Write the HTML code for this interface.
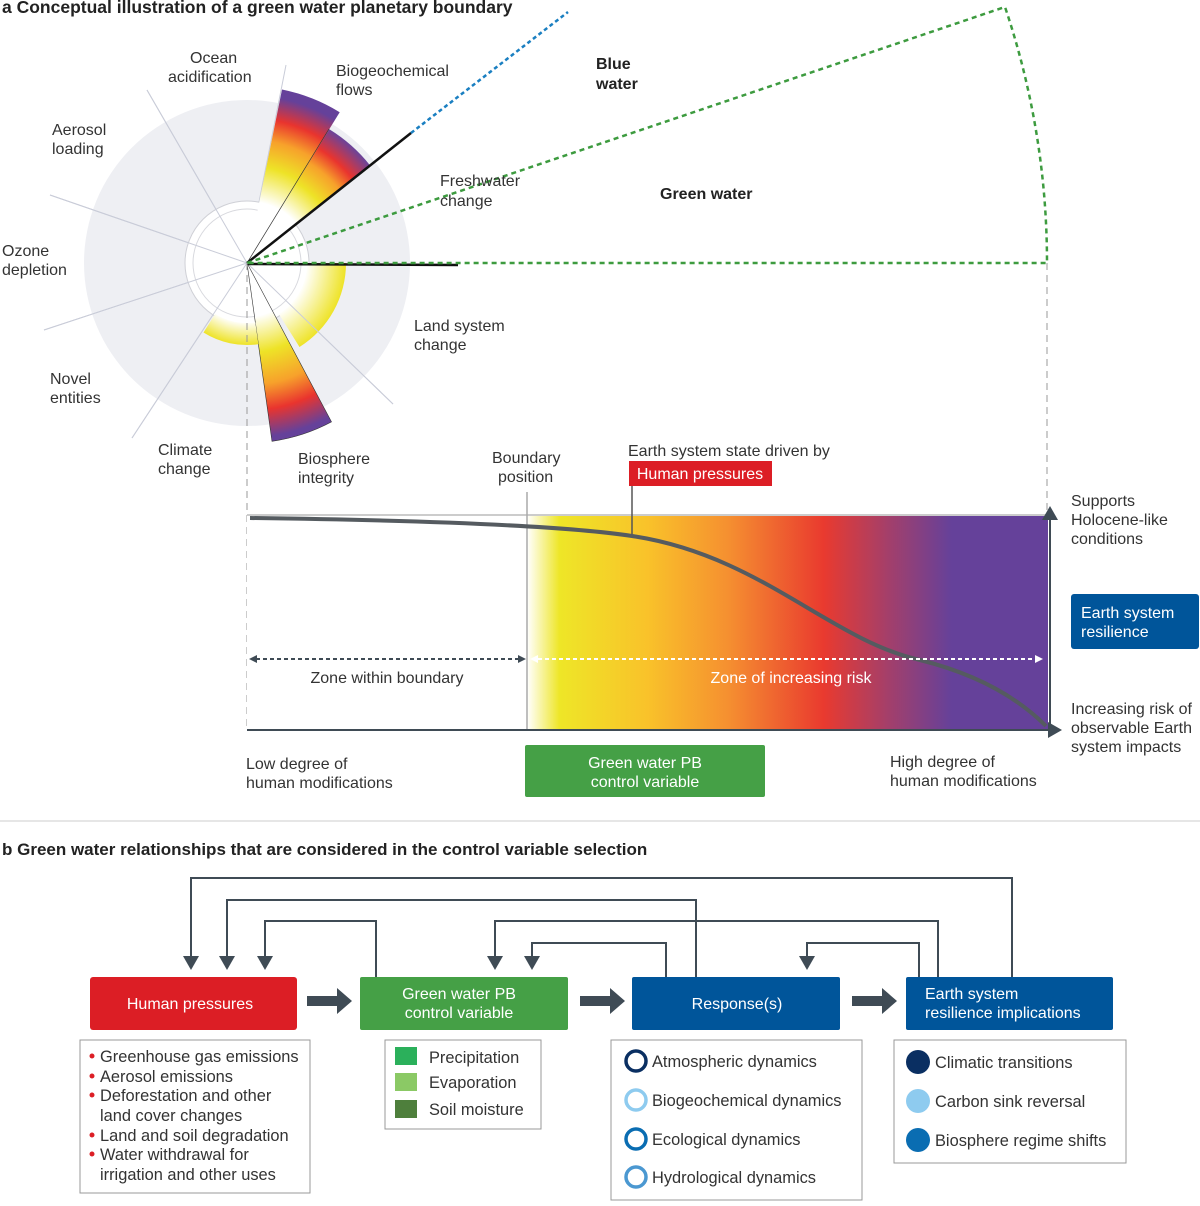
<!DOCTYPE html>
<html><head><meta charset="utf-8"><style>
body{margin:0;background:#fff}
svg text{font-family:"Liberation Sans",sans-serif;}
</style></head><body>
<svg width="1200" height="1201" viewBox="0 0 1200 1201" xmlns="http://www.w3.org/2000/svg">
<defs>
<radialGradient id="g1" gradientUnits="userSpaceOnUse" cx="247" cy="263" r="177">
<stop offset="0.35" stop-color="#fff"/><stop offset="0.55" stop-color="#eee327"/><stop offset="0.7" stop-color="#f7a12b"/><stop offset="0.82" stop-color="#e9342e"/><stop offset="0.95" stop-color="#65419a"/></radialGradient>
<radialGradient id="g2" gradientUnits="userSpaceOnUse" cx="247" cy="263" r="157">
<stop offset="0.4" stop-color="#fff"/><stop offset="0.6" stop-color="#eee327"/><stop offset="0.75" stop-color="#f7a12b"/><stop offset="0.86" stop-color="#e9342e"/><stop offset="1" stop-color="#6a449a"/></radialGradient>
<radialGradient id="g3" gradientUnits="userSpaceOnUse" cx="247" cy="263" r="180">
<stop offset="0.3" stop-color="#fff"/><stop offset="0.5" stop-color="#eee327"/><stop offset="0.68" stop-color="#f7a12b"/><stop offset="0.82" stop-color="#e9342e"/><stop offset="0.97" stop-color="#65419a"/></radialGradient>
<radialGradient id="g4" gradientUnits="userSpaceOnUse" cx="247" cy="263" r="99">
<stop offset="0.6" stop-color="#fff"/><stop offset="1" stop-color="#eee327"/></radialGradient>
<radialGradient id="g5" gradientUnits="userSpaceOnUse" cx="247" cy="263" r="82">
<stop offset="0.72" stop-color="#fff"/><stop offset="1" stop-color="#eee327"/></radialGradient>
<linearGradient id="bar" x1="247" x2="1048" y1="0" y2="0" gradientUnits="userSpaceOnUse">
<stop offset="0.35" stop-color="#fff"/><stop offset="0.39" stop-color="#eee627"/><stop offset="0.5" stop-color="#f9c22a"/><stop offset="0.6" stop-color="#f59030"/><stop offset="0.72" stop-color="#e93a2f"/><stop offset="0.8" stop-color="#a43f6a"/><stop offset="0.88" stop-color="#65419a"/><stop offset="1" stop-color="#65419a"/></linearGradient>
<marker id="ah" markerWidth="8" markerHeight="8" refX="6" refY="4" orient="auto"><path d="M0,0 L7,4 L0,8 z" fill="#3f4b55"/></marker>
</defs>
<text x="2" y="13" font-size="17.5" font-weight="bold" fill="#222">a  Conceptual illustration of a green water planetary boundary</text>
<circle cx="247" cy="263" r="163" fill="#eeeff3"/>
<g stroke="#c9ccd8" stroke-width="1">
<line x1="247" y1="263" x2="286" y2="65"/><line x1="247" y1="263" x2="147" y2="90"/><line x1="247" y1="263" x2="50" y2="195"/><line x1="247" y1="263" x2="44" y2="330"/><line x1="247" y1="263" x2="132" y2="438"/><line x1="247" y1="263" x2="393" y2="404"/>
</g>
<circle cx="247" cy="263" r="62" fill="#fff" stroke="#cfd0d6"/>
<circle cx="247" cy="263" r="54" fill="none" stroke="#d8d9de"/>
<circle cx="247" cy="263" r="42" fill="#fff"/>
<path d="M247,263 L282,89.5 A177,177 0 0 1 339.7,112.2 Z" fill="url(#g1)"/>
<path d="M247,263 L329.3,129.3 A157,157 0 0 1 369.9,165.2 Z" fill="url(#g2)"/>
<path d="M346,263 A99,99 0 0 1 299.5,347 L278.8,313.9 A60,60 0 0 0 307,263 Z" fill="url(#g4)"/>
<path d="M247,263 L331.5,421.9 A180,180 0 0 1 272,441.3 Z" fill="url(#g3)" stroke="#333" stroke-width="0.6"/>
<path d="M258.4,344.2 A82,82 0 0 1 203.5,332.5 L215.2,313.9 A60,60 0 0 0 255.3,322.4 Z" fill="url(#g5)"/>
<g stroke="#c9ccd8"><line x1="247" y1="263" x2="132" y2="438"/><line x1="247" y1="263" x2="393" y2="404"/><line x1="247" y1="263" x2="147" y2="90"/><line x1="247" y1="263" x2="50" y2="195"/><line x1="247" y1="263" x2="44" y2="330"/></g>
<line x1="247" y1="263" x2="329" y2="129" stroke="#333" stroke-width="0.7"/>
<line x1="247" y1="263" x2="411" y2="133" stroke="#111" stroke-width="2.5"/>
<line x1="411" y1="133" x2="568" y2="12" stroke="#1a7fc1" stroke-width="2.5" stroke-dasharray="4,3"/>
<line x1="247" y1="264" x2="458" y2="265" stroke="#111" stroke-width="2.5"/>
<path d="M247,263 L1005,7 A800,800 0 0 1 1047,263 Z" fill="none" stroke="#3d9b3f" stroke-width="2.5" stroke-dasharray="5,4"/>
<line x1="247" y1="263" x2="247" y2="730" stroke="#999" stroke-dasharray="7,5"/>
<line x1="1047" y1="263" x2="1047" y2="512" stroke="#999" stroke-dasharray="7,5"/>
<g font-size="16" fill="#333">
<text x="190" y="63">Ocean</text><text x="168" y="82">acidification</text>
<text x="336" y="76">Biogeochemical</text><text x="336" y="95">flows</text>
<text x="52" y="135">Aerosol</text><text x="52" y="154">loading</text>
<text x="440" y="186">Freshwater</text><text x="440" y="206">change</text>
<text x="2" y="256">Ozone</text><text x="2" y="275">depletion</text>
<text x="414" y="331">Land system</text><text x="414" y="350">change</text>
<text x="50" y="384">Novel</text><text x="50" y="403">entities</text>
<text x="158" y="455">Climate</text><text x="158" y="474">change</text>
<text x="298" y="464">Biosphere</text><text x="298" y="483">integrity</text>
<text x="492" y="463">Boundary</text><text x="498" y="482">position</text>
<text x="628" y="456">Earth system state driven by</text>
</g>
<text x="596" y="69" font-size="16" font-weight="bold" fill="#222">Blue</text>
<text x="596" y="89" font-size="16" font-weight="bold" fill="#222">water</text>
<text x="660" y="199" font-size="16" font-weight="bold" fill="#222">Green water</text>
<rect x="629" y="461" width="143" height="25" fill="#dc1e25"/>
<text x="700" y="479" font-size="16" fill="#fff" text-anchor="middle">Human pressures</text>
<rect x="247" y="515" width="801" height="215" fill="url(#bar)"/>
<line x1="247" y1="515" x2="1048" y2="515" stroke="#ccc" stroke-width="2"/>
<line x1="527" y1="492" x2="527" y2="730" stroke="#aaa" stroke-width="1.5"/>
<line x1="632" y1="486" x2="632" y2="536" stroke="#555" stroke-width="1.5"/>
<path d="M250,518 C400,520 560,525 632,536 C760,555 830,640 920,660 C980,675 1020,700 1046,726" fill="none" stroke="#555b60" stroke-width="4"/>
<line x1="247" y1="730" x2="1060" y2="730" stroke="#3f4b55" stroke-width="2" marker-end="url(#ah)"/>
<line x1="1050" y1="730" x2="1050" y2="508" stroke="#3f4b55" stroke-width="2" marker-end="url(#ah)"/>
<line x1="256" y1="659" x2="518" y2="659" stroke="#3f4b55" stroke-width="2" stroke-dasharray="4,3"/>
<path d="M249,659 l8,-4 v8z M526,659 l-8,-4 v8z" fill="#3f4b55"/>
<line x1="538" y1="659" x2="1034" y2="659" stroke="#fff" stroke-width="2" stroke-dasharray="4,3"/>
<path d="M530,659 l8,-4 v8z M1043,659 l-8,-4 v8z" fill="#fff"/>
<text x="387" y="683" font-size="16" fill="#333" text-anchor="middle">Zone within boundary</text>
<text x="791" y="683" font-size="16" fill="#fff" text-anchor="middle">Zone of increasing risk</text>
<g font-size="16" fill="#333">
<text x="1071" y="506">Supports</text><text x="1071" y="525">Holocene-like</text><text x="1071" y="544">conditions</text>
<text x="1071" y="714">Increasing risk of</text><text x="1071" y="733">observable Earth</text><text x="1071" y="752">system impacts</text>
<text x="246" y="769">Low degree of</text><text x="246" y="788">human modifications</text>
<text x="890" y="767">High degree of</text><text x="890" y="786">human modifications</text>
</g>
<rect x="1071" y="594" width="128" height="55" rx="3" fill="#00559a"/>
<text x="1081" y="618" font-size="16" fill="#fff">Earth system</text><text x="1081" y="637" font-size="16" fill="#fff">resilience</text>
<rect x="525" y="745" width="240" height="52" rx="2" fill="#45a046"/>
<text x="645" y="768" font-size="16" fill="#fff" text-anchor="middle">Green water PB</text>
<text x="645" y="787" font-size="16" fill="#fff" text-anchor="middle">control variable</text>
<line x1="0" y1="821" x2="1200" y2="821" stroke="#ccc"/>
<text x="2" y="855" font-size="17" font-weight="bold" fill="#222">b  Green water relationships that are considered in the control variable selection</text>
<g fill="none" stroke="#3f4b55" stroke-width="2" marker-end="url(#ah)">
<path d="M1012,977 V878 H191 V968"/>
<path d="M696,977 V900 H227 V968"/>
<path d="M376,977 V921 H265 V968"/>
<path d="M938,977 V921 H495 V968"/>
<path d="M666,977 V943 H532 V968"/>
<path d="M919,977 V943 H807 V968"/>
</g>
<g fill="#3f4b55">
<path d="M307,996 h30 v-8 l15,13 l-15,13 v-8 h-30z"/>
<path d="M580,996 h30 v-8 l15,13 l-15,13 v-8 h-30z"/>
<path d="M852,996 h30 v-8 l15,13 l-15,13 v-8 h-30z"/>
</g>
<rect x="90" y="977" width="207" height="53" rx="3" fill="#dc1e25"/>
<text x="190" y="1009" font-size="16" fill="#fff" text-anchor="middle">Human pressures</text>
<rect x="360" y="977" width="208" height="53" rx="2" fill="#45a046"/>
<text x="459" y="999" font-size="16" fill="#fff" text-anchor="middle">Green water PB</text>
<text x="459" y="1018" font-size="16" fill="#fff" text-anchor="middle">control variable</text>
<rect x="632" y="977" width="208" height="53" rx="2" fill="#00559a"/>
<text x="737" y="1009" font-size="16" fill="#fff" text-anchor="middle">Response(s)</text>
<rect x="906" y="977" width="207" height="53" rx="2" fill="#00559a"/>
<text x="925" y="999" font-size="16" fill="#fff">Earth system</text>
<text x="925" y="1018" font-size="16" fill="#fff">resilience implications</text>
<g fill="none" stroke="#999">
<rect x="80" y="1040" width="230" height="153"/>
<rect x="385" y="1040" width="156" height="89"/>
<rect x="611" y="1040" width="251" height="160"/>
<rect x="894" y="1040" width="232" height="123"/>
</g>
<g font-size="16.4" fill="#333">
<text x="100" y="1062">Greenhouse gas emissions</text>
<text x="100" y="1082">Aerosol emissions</text>
<text x="100" y="1101">Deforestation and other</text>
<text x="100" y="1121">land cover changes</text>
<text x="100" y="1141">Land and soil degradation</text>
<text x="100" y="1160">Water withdrawal for</text>
<text x="100" y="1180">irrigation and other uses</text>
<text x="429" y="1063">Precipitation</text>
<text x="429" y="1088">Evaporation</text>
<text x="429" y="1115">Soil moisture</text>
<text x="652" y="1067">Atmospheric dynamics</text>
<text x="652" y="1106">Biogeochemical dynamics</text>
<text x="652" y="1145">Ecological dynamics</text>
<text x="652" y="1183">Hydrological dynamics</text>
<text x="935" y="1068">Climatic transitions</text>
<text x="935" y="1107">Carbon sink reversal</text>
<text x="935" y="1146">Biosphere regime shifts</text>
</g>
<g fill="#dc1e25"><circle cx="92" cy="1056" r="2.5"/><circle cx="92" cy="1076" r="2.5"/><circle cx="92" cy="1095" r="2.5"/><circle cx="92" cy="1135" r="2.5"/><circle cx="92" cy="1154" r="2.5"/></g>
<rect x="395" y="1047" width="22" height="18" fill="#2bb05b"/>
<rect x="395" y="1073" width="22" height="18" fill="#8bc965"/>
<rect x="395" y="1100" width="22" height="18" fill="#4e7f3c"/>
<g fill="#fff" stroke-width="3.5">
<circle cx="636" cy="1061" r="10" stroke="#0a2f62"/>
<circle cx="636" cy="1100" r="10" stroke="#8ecbef"/>
<circle cx="636" cy="1139" r="10" stroke="#0a6db2"/>
<circle cx="636" cy="1177" r="10" stroke="#4b98d1"/>
</g>
<circle cx="918" cy="1062" r="12" fill="#0a2f62"/>
<circle cx="918" cy="1101" r="12" fill="#8ecbef"/>
<circle cx="918" cy="1140" r="12" fill="#0a6db2"/>
</svg>
</body></html>
